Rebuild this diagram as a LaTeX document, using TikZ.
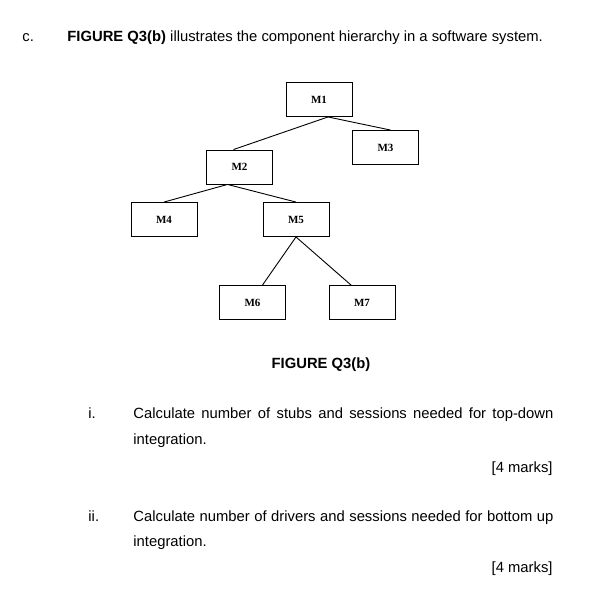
\documentclass[tikz,border=0pt]{standalone}
\usepackage{fontspec}
\setmainfont{Liberation Sans}
\newfontfamily\boxfont{Liberation Serif}
\usepackage{tikz}

\tikzset{
  modbox/.style={draw, rectangle, line width=0.9pt, minimum width=66pt, minimum height=34pt, inner sep=0pt, font=\boxfont\bfseries\fontsize{11}{12}\selectfont},
  txt/.style={inner sep=0pt, anchor=base west, font=\fontsize{14.8}{17}\selectfont},
}

\begin{document}
\begin{tikzpicture}[x=1pt, y=-1pt, line width=0.9pt]
\useasboundingbox (0,0) rectangle (592,598);
% --- Question header ---
\node[txt] (qc) at (22,41) {c.};
\node[txt] (qhead) at (67,41) {\textbf{FIGURE Q3(b)} illustrates the component hierarchy in a software system.};
% --- Hierarchy boxes ---
\node[modbox] (m1) at (319,99.5) {M1};
\node[modbox] (m3) at (385.5,147.5) {M3};
\node[modbox] (m2) at (239.5,167) {M2};
\node[modbox] (m4) at (164,219.5) {M4};
\node[modbox] (m5) at (296,219.5) {M5};
\node[modbox] (m6) at (252.5,302.5) {M6};
\node[modbox] (m7) at (362,302.5) {M7};
% --- Links ---
\draw ([xshift=9pt]m1.south) -- ([xshift=-6pt]m2.north);
\draw ([xshift=9pt]m1.south) -- ([xshift=5pt]m3.north);
\draw ([xshift=-12pt]m2.south) -- (m4.north);
\draw ([xshift=-12pt]m2.south) -- (m5.north);
\draw (m5.south) -- ([xshift=10pt]m6.north);
\draw (m5.south) -- ([xshift=-11pt]m7.north);
% --- Caption ---
\node[txt, anchor=base] (cap) at (321,368) {\textbf{FIGURE Q3(b)}};
% --- Part i ---
\node[txt] (n1) at (88,418) {i.};
\node[txt] (l1a) at (133,418) {\makebox[420pt][s]{Calculate number of stubs and sessions needed for top-down}};
\node[txt] (l1b) at (133,444) {integration.};
\node[txt, anchor=base east] (mk1) at (553,472) {[4 marks]};
% --- Part ii ---
\node[txt] (n2) at (88,521) {ii.};
\node[txt] (l2a) at (133,521) {\makebox[420pt][s]{Calculate number of drivers and sessions needed for bottom up}};
\node[txt] (l2b) at (133,546) {integration.};
\node[txt, anchor=base east] (mk2) at (553,572) {[4 marks]};
\end{tikzpicture}
\end{document}
